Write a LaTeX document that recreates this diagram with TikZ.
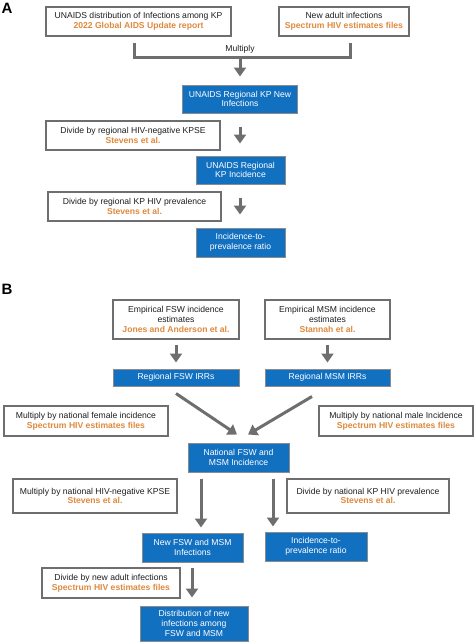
\documentclass[tikz,border=0pt]{standalone}
\usepackage{fontspec}
\setmainfont{Liberation Sans}
\usetikzlibrary{arrows.meta}
\definecolor{kpblue}{HTML}{1270C0}
\definecolor{kporange}{HTML}{DE8A3E}
\definecolor{kpgray}{HTML}{6E6E6E}
\definecolor{kptext}{HTML}{1E1E1E}
\newcommand{\src}[1]{{\color{kporange}\bfseries #1}}
\tikzset{
  wbox/.style={draw=kpgray, line width=1.2pt, fill=white, text=kptext, align=center, inner sep=0pt,
    font=\fontsize{8.6}{9.7}\selectfont},
  bbox/.style={draw=kpgray!80, line width=1pt, fill=kpblue, text=white, align=center, inner sep=0pt,
    font=\fontsize{8.6}{9.7}\selectfont},
  plab/.style={font=\fontsize{15}{15}\selectfont\bfseries, inner sep=0pt},
  conn/.style={draw=kpgray, line width=3pt},
  arr/.style={draw=kpgray, line width=3pt, -{Triangle[width=12pt,length=9pt]}},
}
\begin{document}
\begin{tikzpicture}[x=1pt,y=-1pt]
\useasboundingbox (0,0) rectangle (474,642);
% ---------- Panel A ----------
\node[plab] (labA) at (7,8) {A};
\node[wbox, minimum width=185pt, minimum height=29pt] (a1) at (138.5,21.5)
  {UNAIDS distribution of Infections among KP\\ \src{2022 Global AIDS Update report}};
\node[wbox, minimum width=130pt, minimum height=29pt] (a2) at (344,21.5)
  {New adult infections\\ \src{Spectrum HIV estimates files}};
\node[inner sep=0pt, font=\fontsize{8.6}{9.7}\selectfont, text=kptext] (mult) at (240,49) {Multiply};
\node[bbox, minimum width=115pt, minimum height=28pt] (ab1) at (240,99)
  {UNAIDS Regional KP New\\ Infections};
\node[wbox, minimum width=174pt, minimum height=29pt] (a3) at (133,135.5)
  {Divide by regional HIV-negative KPSE\\ \src{Stevens et al.}};
\node[bbox, minimum width=89pt, minimum height=28pt] (ab2) at (240.5,170)
  {UNAIDS Regional\\ KP Incidence};
\node[wbox, minimum width=173pt, minimum height=29pt] (a4) at (134.5,206.5)
  {Divide by regional KP HIV prevalence\\ \src{Stevens et al.}};
\node[bbox, minimum width=89pt, minimum height=29pt] (ab3) at (240.5,242.5)
  {Incidence-to-\\ prevalence ratio};
\coordinate (brL) at (134,43);
\coordinate (brR) at (350,43);
\coordinate (brM) at (240,58);
\draw[conn] (brL) |- (brM) -| (brR);
\draw[arr, shorten >=8pt] (brM) -- (ab1.north -| brM);
\draw[arr, shorten <=13pt, shorten >=12pt] (ab1.south) -- (ab1.south |- ab2.north);
\draw[arr, shorten <=13pt, shorten >=13pt] (ab2.south -| ab1.south) -- (ab1.south |- ab3.north);
% ---------- Panel B ----------
\node[plab] (labB) at (7,289) {B};
\node[wbox, minimum width=126pt, minimum height=39pt] (b1) at (176,319.5)
  {Empirical FSW incidence\\ estimates\\ \src{Jones and Anderson et al.}};
\node[wbox, minimum width=125pt, minimum height=39pt] (b2) at (327.5,319.5)
  {Empirical MSM incidence\\ estimates\\ \src{Stannah et al.}};
\node[bbox, minimum width=126pt, minimum height=17pt] (bb1) at (176,377.5)
  {Regional FSW IRRs};
\node[bbox, minimum width=125pt, minimum height=17pt] (bb2) at (327.5,377.5)
  {Regional MSM IRRs};
\node[wbox, minimum width=164pt, minimum height=30pt] (b3) at (86,421)
  {Multiply by national female incidence\\ \src{Spectrum HIV estimates files}};
\node[wbox, minimum width=154pt, minimum height=30pt] (b4) at (396,421)
  {Multiply by national male Incidence\\ \src{Spectrum HIV estimates files}};
\node[bbox, minimum width=101pt, minimum height=29pt] (bb3) at (238.5,457.5)
  {National FSW and\\ MSM Incidence};
\node[wbox, minimum width=164pt, minimum height=34pt] (b5) at (95,496)
  {Multiply by national HIV-negative KPSE\\ \src{Stevens et al.}};
\node[wbox, minimum width=162pt, minimum height=34pt] (b6) at (368,496)
  {Divide by national KP HIV prevalence\\ \src{Stevens et al.}};
\node[bbox, minimum width=101pt, minimum height=29pt] (bb4) at (192.5,547.5)
  {New FSW and MSM\\ Infections};
\node[bbox, minimum width=102pt, minimum height=29pt] (bb5) at (316,546.5)
  {Incidence-to-\\ prevalence ratio};
\node[wbox, minimum width=138pt, minimum height=30pt] (b7) at (111,583)
  {Divide by new adult infections\\ \src{Spectrum HIV estimates files}};
\node[bbox, minimum width=108pt, minimum height=35pt] (bb6) at (194,623.5)
  {Distribution of new\\ infections among\\ FSW and MSM};
\draw[arr, shorten <=5pt, shorten >=6pt] (b1.south) -- (bb1.north);
\draw[arr, shorten <=5pt, shorten >=6pt] (b2.south) -- (bb2.north);
\draw[arr] ([yshift=-7pt]bb1.south) -- ([xshift=-1.5pt,yshift=8pt]bb3.north);
\draw[arr] ([xshift=-15.5pt,yshift=-10pt]bb2.south) -- ([xshift=9.5pt,yshift=8pt]bb3.north);
\draw[arr] ([xshift=-37.5pt,yshift=-6pt]bb3.south) -- ([xshift=8.5pt,yshift=5pt]bb4.north);
\draw[arr] ([xshift=34.5pt,yshift=-6pt]bb3.south) -- ([xshift=-43pt,yshift=5pt]bb5.north);
\draw[arr] ([xshift=-0.5pt,yshift=-5pt]bb4.south) -- ([xshift=-2pt,yshift=8pt]bb6.north);
\end{tikzpicture}
\end{document}
